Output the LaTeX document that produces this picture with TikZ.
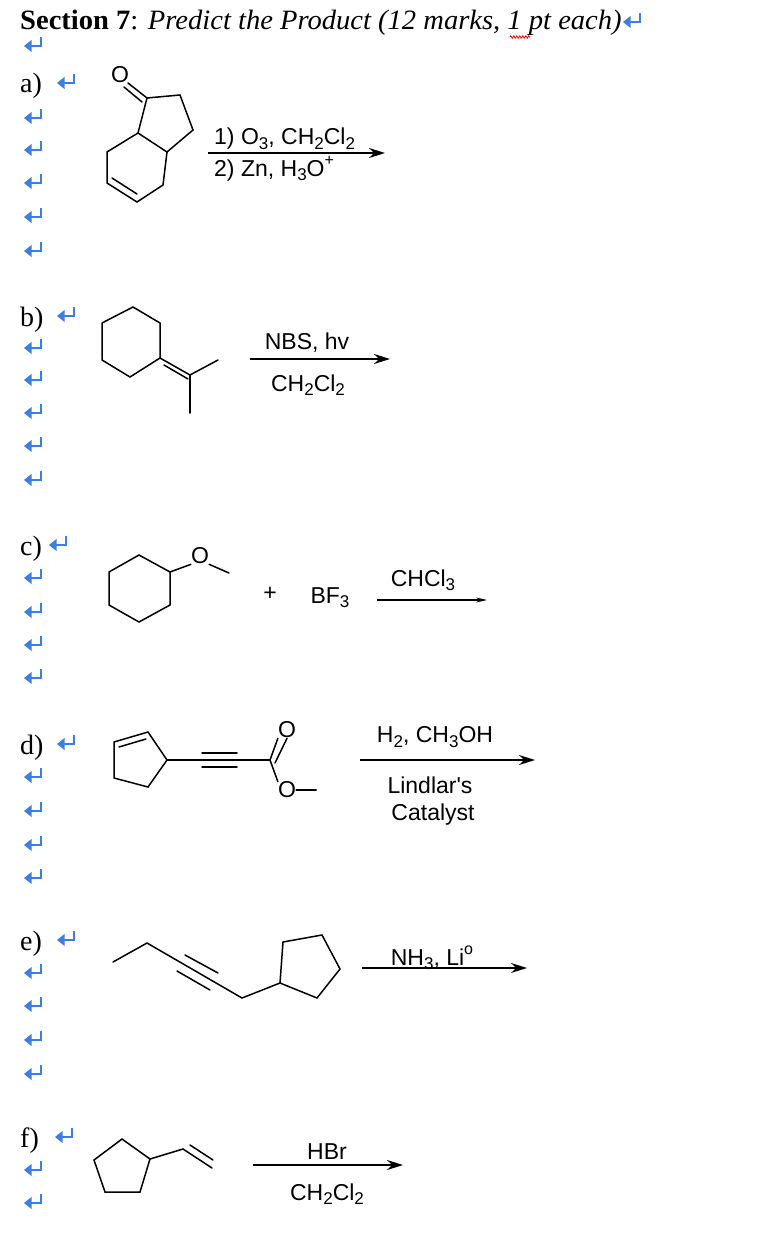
\documentclass[tikz,border=0pt]{standalone}
\usepackage{fontspec}
\setmainfont{Liberation Serif}
\newfontfamily\chem{Liberation Sans}
\usetikzlibrary{arrows.meta,decorations.pathmorphing}
\definecolor{retblue}{HTML}{3C7FE0}
\newcommand{\sbs}[1]{\raisebox{-0.35ex}{\fontsize{17}{17}\selectfont #1}}
\newcommand{\sps}[1]{\raisebox{0.9ex}{\fontsize{16}{16}\selectfont #1}}
\tikzset{
  bond/.style={line width=1.5pt,line cap=round},
  rx/.style={line width=2pt,-{Stealth[length=16pt,width=10pt]}},
  rxthin/.style={line width=1.1pt,-{Stealth[length=11pt,width=5pt]}},
  ch/.style={font=\chem\fontsize{23}{25}\selectfont,inner sep=0pt},
  lbl/.style={font=\fontsize{28}{30}\selectfont,anchor=base west,inner sep=0pt},
  ret/.pic={\fill[retblue] (-9,0) -- (-1.5,-6) -- (-1.5,6) -- cycle;
            \draw[retblue,line width=2.8pt] (-3,0) -- (8,0) -- (8,-9);}
}
\begin{document}
\begin{tikzpicture}[x=1pt,y=-1pt]
\useasboundingbox (0,0) rectangle (758,1236);
\fill[white] (0,0) rectangle (758,1236);
% title
\node[lbl,xscale=1.02] (title) at (20,30) {\textbf{Section 7}: \textit{Predict the Product (12 marks, 1 pt each)}};
\draw[red,line width=0.8pt,decorate,decoration={zigzag,amplitude=1.2pt,segment length=3pt}] (510,37) -- (530,37);
\pic at (632,22) {ret};
% return symbols
\foreach \y in {46,118,150,183,217,251,348,380,413,446,480,578,612,645,678,777,811,845,878,973,1006,1040,1074,1170,1203}
  \pic at (33,\y) {ret};
\foreach \y/\x in {83/66,316/66,545/58,744/66,940/66,1137/64} \pic at (\x,\y) {ret};
\node[lbl] (la) at (20,93) {a)};
\node[lbl] (lb) at (20,326) {b)};
\node[lbl] (lc) at (20,555) {c)};
\node[lbl] (ld) at (20,754) {d)};
\node[lbl] (le) at (20,950) {e)};
\node[lbl] (lf) at (20,1147) {f)};

% a)
\node[ch] (Oa) at (120,75) {O};
\draw[bond] (147,98) -- (180,95) -- (193,130) -- (167,152) -- (138,133) -- cycle;
\draw[bond] (138,133) -- (107,152) -- (107,183) -- (137,202) -- (163,185) -- (167,152);
\draw[bond] (112,178) -- (137,194);
\draw[bond] (147,98) -- (128,83);
\draw[bond] (142,102) -- (124,87);
\coordinate (a1) at (208,153); \coordinate (a2) at (385,153);
\draw[rx] (a1) -- (a2);
\node[ch,anchor=base west] (ta1) at (214,145) {1) O\sbs{3}, CH\sbs{2}Cl\sbs{2}};
\node[ch,anchor=base west] (ta2) at (214,176) {2) Zn, H\sbs{3}O\sps{+}};

% b)
\draw[bond] (133,307) -- (160,323) -- (160,358) -- (130,377) -- (102,360) -- (102,323) -- cycle;
\draw[bond] (160,358) -- (190,375) -- (218,360);
\draw[bond] (190,375) -- (190,413);
\draw[bond] (164,365) -- (188,379);
\coordinate (b1) at (250,359); \coordinate (b2) at (390,359);
\draw[rx] (b1) -- (b2);
\node[ch] (tb1) at (307,343) {NBS, hv};
\node[ch] (tb2) at (308,385) {CH\sbs{2}Cl\sbs{2}};

% c)
\draw[bond] (139,555) -- (170,572) -- (170,605) -- (139,622) -- (109,605) -- (109,572) -- cycle;
\node[ch] (Oc) at (200,556) {O};
\draw[bond] (170,572) -- (Oc.south west);
\draw[bond] (Oc.south east) -- (229,573);
\node[ch] (plus) at (270,594) {+};
\node[ch] (bf3) at (330,598) {BF\sbs{3}};
\coordinate (c1) at (377,600); \coordinate (c2) at (487,600);
\draw[rxthin] (c1) -- (c2);
\node[ch] (tc) at (423,580) {CHCl\sbs{3}};

% d)
\draw[bond] (148,732) -- (167,760) -- (148,787) -- (114,778) -- (114,742) -- cycle;
\draw[bond] (119,747) -- (146,739);
\draw[bond] (167,760) -- (202,760);
\draw[bond] (202,760) -- (237,760);
\draw[bond] (202,753) -- (237,753);
\draw[bond] (202,767) -- (237,767);
\draw[bond] (237,760) -- (270,760);
\node[ch] (Od1) at (287,730) {O};
\node[ch] (Od2) at (287,790) {O};
\draw[bond] (270,760) -- (Od1.south west);
\draw[bond] (275,763) -- (Od1.south);
\draw[bond] (270,760) -- (Od2.north west);
\draw[bond] (Od2.east) -- ++(20,0) coordinate (me);
\coordinate (d1) at (360,760); \coordinate (d2) at (535,760);
\draw[rx] (d1) -- (d2);
\node[ch] (td1) at (435,737) {H\sbs{2}, CH\sbs{3}OH};
\node[ch] (td2) at (430,785) {Lindlar's};
\node[ch] (td3) at (433,815) {Catalyst};

% e)
\draw[bond] (113,962) -- (147,943) -- (242,998) -- (280,983);
\draw[bond] (185,955) -- (218,973);
\draw[bond] (177,971) -- (210,990);
\draw[bond] (280,983) -- (283,942) -- (322,935) -- (340,969) -- (317,998) -- cycle;
\coordinate (e1) at (362,968); \coordinate (e2) at (527,968);
\draw[rx,line width=1.5pt] (e1) -- (e2);
\node[ch] (te) at (432,958) {NH\sbs{3}, Li\sps{o}};

% f)
\draw[bond] (122,1139) -- (150,1159) -- (140,1192) -- (105,1192) -- (94,1160) -- cycle;
\draw[bond] (150,1159) -- (183,1149) -- (212,1168);
\draw[bond] (190,1145) -- (213,1160);
\coordinate (f1) at (253,1165); \coordinate (f2) at (403,1165);
\draw[rx] (f1) -- (f2);
\node[ch] (tf1) at (327,1152) {HBr};
\node[ch] (tf2) at (327,1194) {CH\sbs{2}Cl\sbs{2}};
\end{tikzpicture}
\end{document}
